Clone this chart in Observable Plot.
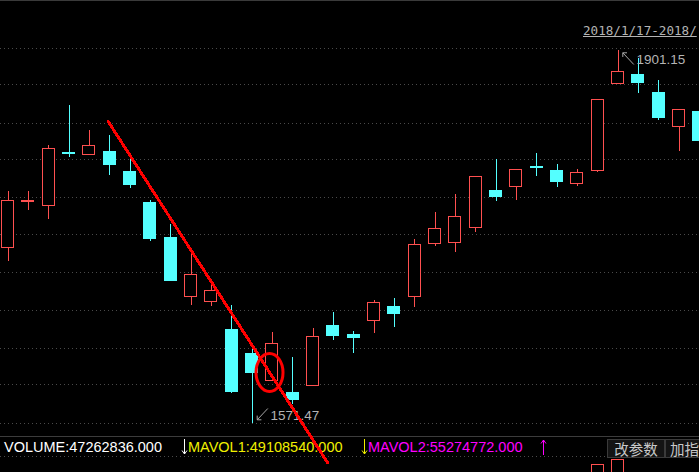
<!DOCTYPE html>
<html><head><meta charset="utf-8">
<script src="https://cdn.jsdelivr.net/npm/d3@7"></script>
<script src="https://cdn.jsdelivr.net/npm/@observablehq/plot@0.6"></script>
<style>
html,body{margin:0;padding:0;background:#000;overflow:hidden;width:699px;height:472px;}
#wrap{position:relative;width:699px;height:472px;overflow:hidden;background:#000;}
#topline{position:absolute;left:0;top:0;width:699px;height:1px;background:#3a3a3a;z-index:3;}
#main{position:absolute;left:0;top:0;z-index:2;}
#vol{position:absolute;left:0;top:437px;z-index:1;}
#sep{position:absolute;left:0;top:436px;width:699px;height:1px;background:#3c3c3c;z-index:1;}
#date{position:absolute;left:583px;top:23px;font:12.6px "DejaVu Sans Mono",monospace;line-height:15px;color:#b4b4b4;text-decoration:underline;white-space:nowrap;z-index:3;}
.lbl{position:absolute;top:439px;font-family:"Liberation Sans",Arial,sans-serif;font-size:14.5px;line-height:16px;white-space:nowrap;z-index:1;}
.arr{position:absolute;top:439px;z-index:1;}
.btn{position:absolute;top:439px;border:1px solid #3a3a3a;background:#141414;color:#c8c8c8;font-family:"Noto Sans CJK SC",sans-serif;font-size:14.5px;line-height:18px;white-space:nowrap;z-index:3;box-sizing:border-box;height:19px;}
</style>
</head><body>
<div id="wrap">
  <div id="topline"></div>
  <div id="main"></div>
  <div id="sep"></div>
  <div id="vol"></div>
  <div id="date">2018/1/17-2018/</div>
  <div class="lbl" style="left:4px;color:#ffffff;">VOLUME:47262836.000</div>
  <svg class="arr" style="left:181px" width="7" height="16"><path d="M3.5,0V15M1,11.5L3.5,15L6,11.5" stroke="#ffffff" fill="none" stroke-width="1"/></svg>
  <div class="lbl" style="left:188px;color:#f0f000;">MAVOL1:49108540.000</div>
  <svg class="arr" style="left:361px" width="7" height="16"><path d="M3.5,0V15M1,11.5L3.5,15L6,11.5" stroke="#f0f000" fill="none" stroke-width="1"/></svg>
  <div class="lbl" style="left:368px;color:#ff00ff;">MAVOL2:55274772.000</div>
  <svg class="arr" style="left:540px" width="7" height="16"><path d="M3.5,16V1M1,4.5L3.5,1L6,4.5" stroke="#ff00ff" fill="none" stroke-width="1"/></svg>
  <div class="btn" style="left:607px;width:58px;text-align:center;">改参数</div>
  <div class="btn" style="left:665px;width:40px;padding-left:4px;">加指</div>
</div>
<script>
// ---- data (prices) ----
const openP  = [1726.17,1767.07,1763.70,1811.14,1808.48,1811.76,1794.06,1766.62,1735.64,1682.81,1678.38,1654.22,1632.98,1608.82,1598.46,1604.04,1657.76,1649.79,1661.57,1674.58,1682.81,1729.71,1730.60,1743.87,1777.24,1780.34,1798.75,1794.94,1782.82,1794.32,1871.32,1879.91,1863.98,1833.26,1847.16];
const closeP = [1768.13,1767.95,1813.53,1809.37,1816.80,1799.37,1781.67,1734.14,1696.97,1702.63,1688.47,1598.73,1615.54,1641.56,1591.65,1647.76,1648.02,1646.25,1677.85,1667.50,1729.18,1743.34,1753.96,1789.37,1771.05,1795.56,1796.98,1784.59,1792.91,1856.90,1882.30,1872.21,1841.23,1848.66,1820.87];
const highP  = [1776.36,1776.36,1817.07,1852.47,1830.34,1825.92,1806.45,1768.39,1747.15,1724.14,1697.59,1675.46,1638.55,1651.56,1629.44,1655.10,1669.27,1652.45,1679.89,1681.66,1733.87,1757.77,1773.70,1789.37,1804.68,1795.56,1809.72,1800.25,1795.83,1857.78,1901.15,1894.07,1874.60,1848.66,1856.90];
const lowP   = [1714.67,1759.54,1751.57,1806.71,1808.48,1790.78,1779.28,1732.37,1696.50,1675.73,1674.84,1597.84,1571.47,1608.82,1587.84,1604.04,1644.48,1632.98,1650.95,1655.99,1673.69,1727.68,1722.63,1740.07,1767.51,1768.66,1789.90,1780.16,1781.05,1793.44,1871.32,1862.82,1839.46,1812.02,1820.50];
const gridPrices = [1903.36,1870.62,1836.98,1804.24,1770.61,1737.86,1704.23,1671.48,1637.85,1605.11,1571.47];
const extremes = [{i:30, p:1901.15, label:"1901.15", kind:"high"},{i:12, p:1571.47, label:"1571.47", kind:"low"}];
const trendLine = [{i:4.928, p:1838.31},{i:15.713, p:1536.51}];
const circleMark = [{i:12.861, p:1616.16}];
const volIdx = [29, 30];
const volume = [110.0e6, 115.05e6];
const volGrid = [120e6];

const candles = openP.map((o,i)=>({i, open:o, close:closeP[i], high:highP[i], low:lowP[i]}));
const up = candles.filter(d=>d.close>=d.open);
const down = candles.filter(d=>d.close<d.open);
const vols = volIdx.map((i,k)=>({i, v:volume[k]}));

const RED="#ff5050", CYAN="#54ffff";
const xDomain=[-0.3689, 34.008];

const ellipse = {draw(ctx){const rx=13.5, ry=19, k=0.5523;
  ctx.moveTo(rx,0);
  ctx.bezierCurveTo(rx,k*ry,k*rx,ry,0,ry);
  ctx.bezierCurveTo(-k*rx,ry,-rx,k*ry,-rx,0);
  ctx.bezierCurveTo(-rx,-k*ry,-k*rx,-ry,0,-ry);
  ctx.bezierCurveTo(k*rx,-ry,rx,-k*ry,rx,0);
  ctx.closePath();}};
const arrowUL = {draw(ctx){ctx.moveTo(15.8,14);ctx.lineTo(4.8,2.3);ctx.moveTo(9,2.3);ctx.lineTo(4.8,2.3);ctx.lineTo(4.8,6.5);}};
const arrowDL = {draw(ctx){ctx.moveTo(15.8,-14.5);ctx.lineTo(5.2,-3.2);ctx.moveTo(9.4,-3.2);ctx.lineTo(5.2,-3.2);ctx.lineTo(5.2,-7.4);}};

const main = Plot.plot({
  width:699, height:437, marginTop:0, marginBottom:0, marginLeft:0, marginRight:0,
  x:{domain:xDomain, axis:null},
  y:{domain:[1558.64,1945.40], axis:null},
  style:{background:"transparent", overflow:"visible"},
  marks:[
    Plot.ruleY(gridPrices,{stroke:"#4a4a4a", strokeDasharray:"1,3", shapeRendering:"crispEdges"}),
    Plot.ruleX(up,{x:"i", y1:"low", y2:"high", stroke:RED, strokeWidth:1, shapeRendering:"crispEdges"}),
    Plot.ruleX(down,{x:"i", y1:"low", y2:"high", stroke:CYAN, strokeWidth:1, shapeRendering:"crispEdges"}),
    Plot.rect(down,{x1:d=>d.i-0.32, x2:d=>d.i+0.32, y1:"open", y2:"close", fill:CYAN, shapeRendering:"crispEdges"}),
    Plot.rect(up,{x1:d=>d.i-0.295, x2:d=>d.i+0.295, y1:"open", y2:"close", fill:"#000", stroke:RED, strokeWidth:1, shapeRendering:"crispEdges"}),
    Plot.text(extremes.filter(d=>d.kind==="high"),{x:"i", y:"p", text:"label", dx:18.5, dy:9.3, textAnchor:"start", lineAnchor:"middle", fill:"#b4b4b4", fontSize:13.5, fontFamily:"Liberation Sans"}),
    Plot.text(extremes.filter(d=>d.kind==="low"),{x:"i", y:"p", text:"label", dx:18.5, dy:-7.8, textAnchor:"start", lineAnchor:"middle", fill:"#b4b4b4", fontSize:13.5, fontFamily:"Liberation Sans"}),
    Plot.dot(extremes.filter(d=>d.kind==="high"),{x:"i", y:"p", symbol:arrowUL, stroke:"#a8a8a8", fill:"none", strokeWidth:1}),
    Plot.dot(extremes.filter(d=>d.kind==="low"),{x:"i", y:"p", symbol:arrowDL, stroke:"#a8a8a8", fill:"none", strokeWidth:1}),
    Plot.line(trendLine,{x:"i", y:"p", stroke:"#ff0000", strokeWidth:3, shapeRendering:"crispEdges"}),
    Plot.dot(circleMark,{x:"i", y:"p", symbol:ellipse, stroke:"#ff0000", fill:"none", strokeWidth:3})
  ]
});
document.getElementById("main").appendChild(main);

const volPlot = Plot.plot({
  width:699, height:35, marginTop:0, marginBottom:0, marginLeft:0, marginRight:0,
  x:{domain:xDomain, axis:null},
  y:{domain:[101.025e6,141.275e6], axis:null},
  style:{background:"transparent"},
  marks:[
    Plot.ruleY(volGrid,{stroke:"#4a4a4a", strokeDasharray:"1,3", shapeRendering:"crispEdges"}),
    Plot.rect(vols,{x1:d=>d.i-0.295, x2:d=>d.i+0.295, y1:d=>0, y2:"v", fill:"#000", stroke:RED, strokeWidth:1, clip:true, shapeRendering:"crispEdges"})
  ]
});
document.getElementById("vol").appendChild(volPlot);
</script>
</body></html>
